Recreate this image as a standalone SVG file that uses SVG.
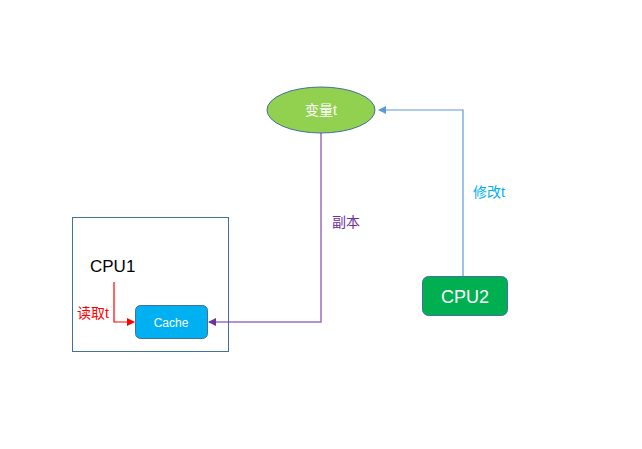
<svg xmlns="http://www.w3.org/2000/svg" width="642" height="449" viewBox="0 0 642 449">
<style>
text{font-family:"Liberation Sans","Noto Sans CJK SC",sans-serif}
.w{fill:#fff}
</style>
<defs>
<marker id="ap" markerWidth="8" markerHeight="8" refX="7" refY="4" orient="auto" markerUnits="userSpaceOnUse"><path d="M0,0L8,4L0,8Z" fill="#7030a0"/></marker>
<marker id="ab" markerWidth="8" markerHeight="8" refX="7" refY="4" orient="auto" markerUnits="userSpaceOnUse"><path d="M0,0L8,4L0,8Z" fill="#5b9bd5"/></marker>
<marker id="ar" markerWidth="8" markerHeight="8" refX="7" refY="4" orient="auto" markerUnits="userSpaceOnUse"><path d="M0,0L8,4L0,8Z" fill="#ff0000"/></marker>
</defs>
<rect width="642" height="449" fill="#fff"/>
<g id="cpu1">
<rect x="72.5" y="217.5" width="156" height="134" fill="none" stroke="#41719c"/>
<text x="90" y="272" font-size="17">CPU1</text>
</g>
<g id="cache">
<rect x="135.5" y="305.5" width="72" height="33" rx="5" fill="#00b0f0" stroke="#41719c"/>
<text class="w" x="171" y="327" font-size="12" text-anchor="middle">Cache</text>
</g>
<g id="var">
<ellipse cx="321" cy="110" rx="54" ry="23" fill="#92d050" stroke="#41719c"/>
<text class="w" x="321" y="115" font-size="14" text-anchor="middle">变量t</text>
</g>
<g id="cpu2">
<rect x="422.5" y="276.5" width="85" height="39" rx="6" fill="#00b050" stroke="#41719c"/>
<text class="w" x="465" y="303" font-size="18" text-anchor="middle">CPU2</text>
</g>
<g id="connectors" fill="none">
<path d="M321,133V322H209" stroke="#7030a0" stroke-opacity="0.7" stroke-width="1.5" marker-end="url(#ap)"/>
<path d="M463,276V110H379" stroke="#5b9bd5" stroke-width="1.2" marker-end="url(#ab)"/>
<path d="M114,282V322H134" stroke="#ff0000" stroke-width="1.2" marker-end="url(#ar)"/>
<text x="332" y="227" font-size="14" fill="#7030a0" stroke="none">副本</text>
<text x="473" y="197" font-size="14" fill="#00b0f0" stroke="none">修改t</text>
<text x="77" y="318" font-size="14" fill="#ff0000" stroke="none">读取t</text>
</g>
</svg>
